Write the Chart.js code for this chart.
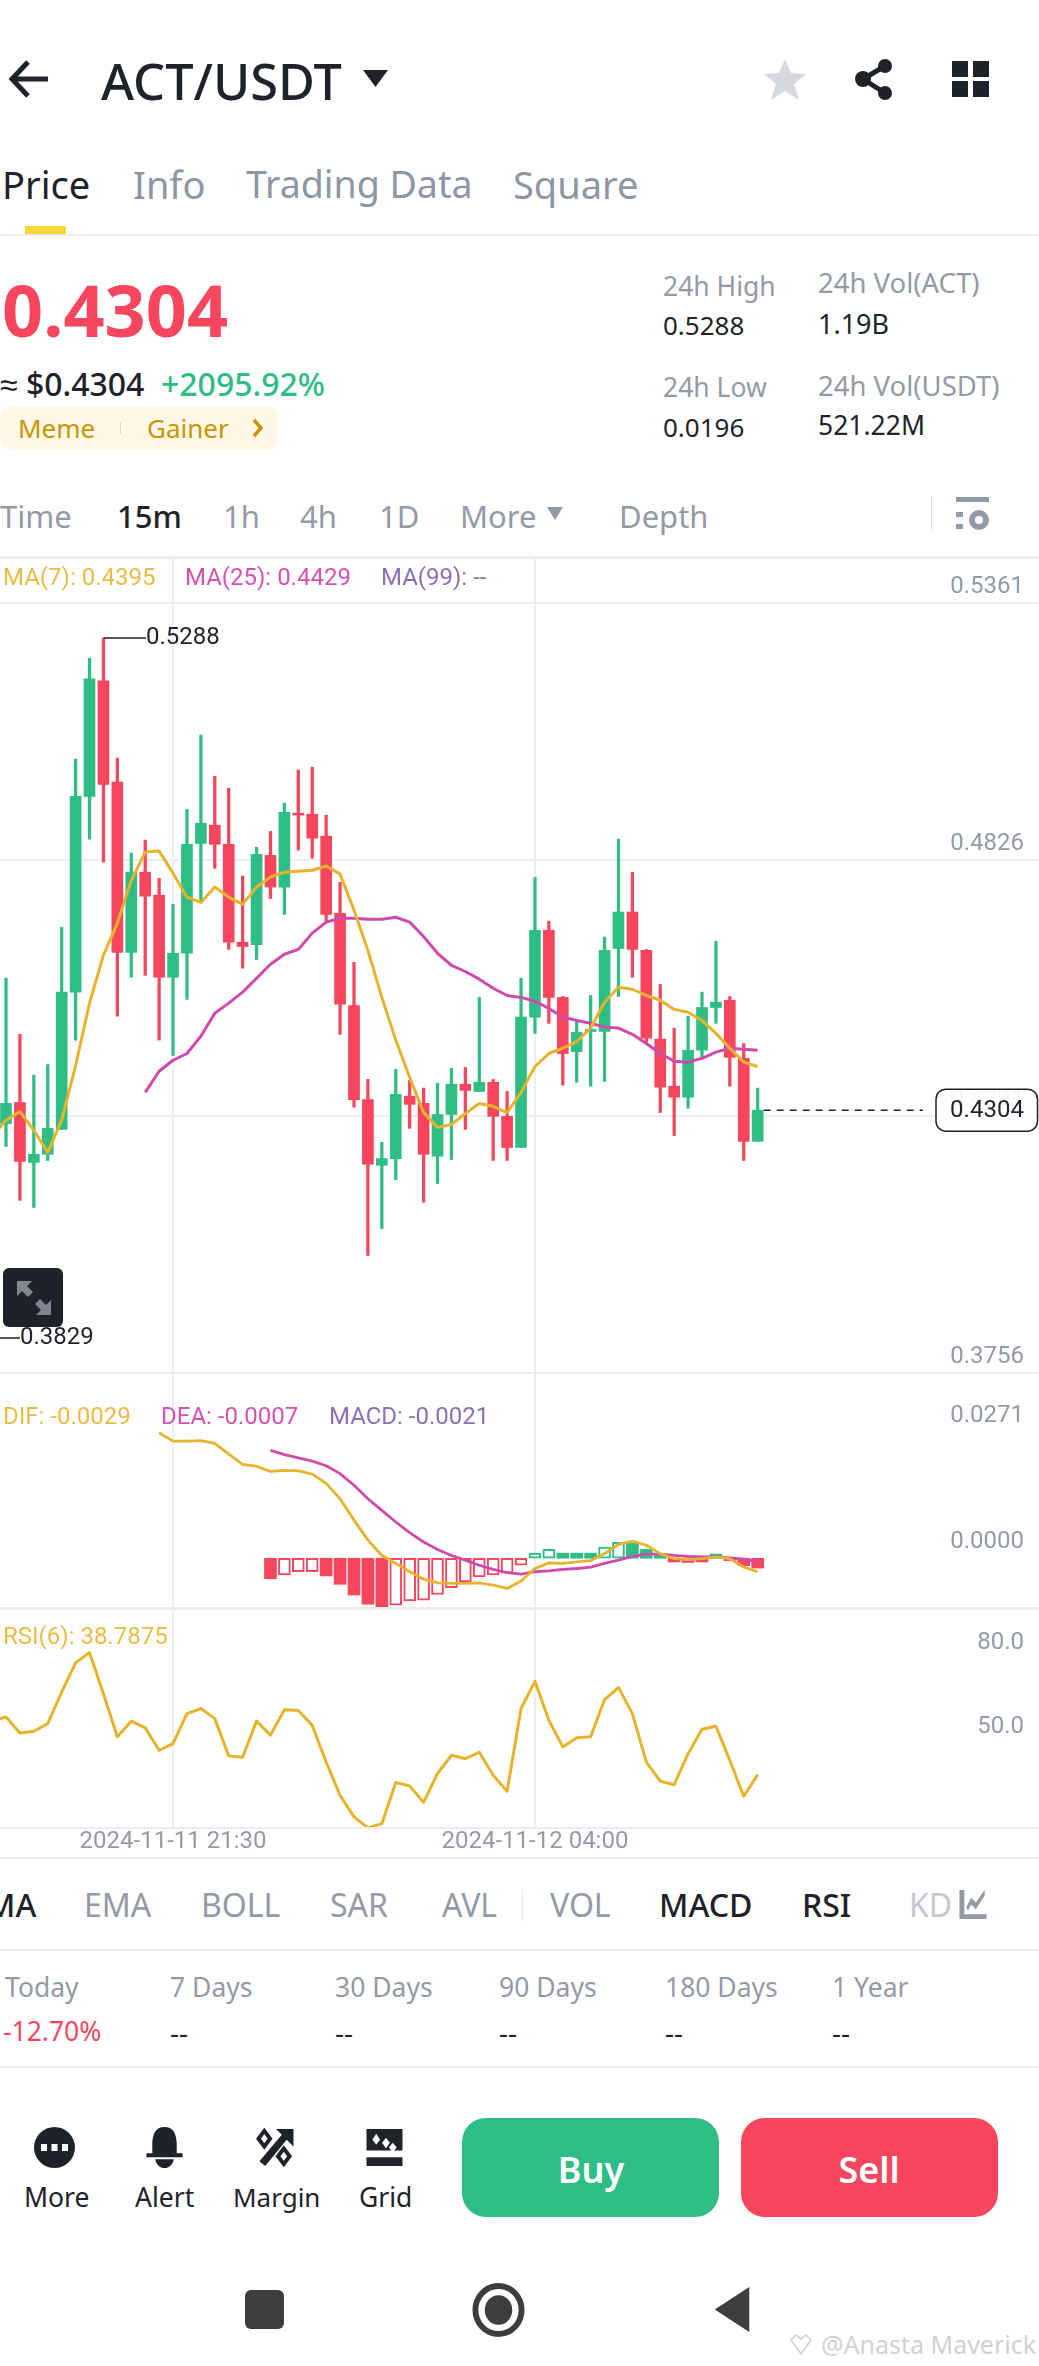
<!DOCTYPE html>
<html><head><meta charset="utf-8">
<script src="https://cdn.jsdelivr.net/npm/chart.js@4"></script>
<style>
html,body{margin:0;padding:0;background:#fff;width:1039px;height:2366px;overflow:hidden}
#page{position:relative;width:1039px;height:2366px;overflow:hidden;font-family:"Noto Sans",sans-serif}
.t{position:absolute;white-space:pre;transform:translateY(-50%);line-height:1}
.r{font-family:Roboto,sans-serif}
.hr{position:absolute;left:0;width:1039px;background:#eaecef}
canvas{position:absolute;left:0;display:block}
svg{position:absolute;overflow:visible}
</style></head><body><div id="page">
<canvas id="cPrice"></canvas><canvas id="cMacd"></canvas><canvas id="cRsi"></canvas>
</div>
<script>
// ---- data ----
const candleOpen =[.4276,.4320,.4195,.4212,.4264,.4550,.4958,.5199,.4988,.4633,.4800,.4752,.4581,.4631,.4860,.4898,.4858,.4654,.4649,.4835,.4769,.4923,.4921,.4875,.4714,.4522,.4326,.4189,.4203,.4333,.4318,.4208,.4295,.4358,.4343,.4362,.4291,.4226,.4498,.4679,.4539,.4426,.4468,.4468,.4641,.4717,.4637,.4452,.4354,.4331,.4429,.4518,.4533,.4412,.4239];
const candleHigh =[.4579,.4462,.4377,.4399,.4685,.5036,.5246,.5288,.5038,.4840,.4867,.4787,.4733,.4931,.5086,.5000,.4975,.4792,.4852,.4885,.4944,.5013,.5019,.4919,.4779,.4612,.4368,.4237,.4389,.4366,.4350,.4360,.4391,.4393,.4539,.4368,.4343,.4579,.4789,.4698,.4541,.4487,.4543,.4665,.4869,.4800,.4639,.4566,.4475,.4500,.4550,.4656,.4541,.4443,.4350];
const candleLow  =[.4228,.4116,.4101,.4199,.4264,.4450,.4869,.4821,.4500,.4581,.4585,.4450,.4418,.4535,.4737,.4808,.4639,.4600,.4618,.4745,.4712,.4846,.4829,.4694,.4462,.4310,.4001,.4057,.4159,.4266,.4112,.4151,.4201,.4264,.4343,.4199,.4199,.4226,.4464,.4485,.4356,.4362,.4354,.4364,.4541,.4581,.4445,.4299,.4251,.4308,.4414,.4485,.4354,.4199,.4239];
const candleClose=[.4318,.4197,.4212,.4266,.4550,.4958,.5203,.4983,.4633,.4800,.4750,.4581,.4631,.4858,.4902,.4858,.4654,.4645,.4837,.4769,.4925,.4919,.4871,.4712,.4525,.4326,.4191,.4203,.4337,.4316,.4212,.4295,.4358,.4345,.4362,.4291,.4226,.4498,.4679,.4539,.4422,.4466,.4472,.4637,.4717,.4639,.4454,.4352,.4331,.4429,.4518,.4529,.4414,.4239,.4304];
// ma7 and rsi also hold the point just off the left edge, at index -1
const ma7=[.4249,.4283,.4301,.4262,.4216,.4283,.4397,.4527,.4627,.4694,.4783,.4842,.4844,.4798,.4748,.4737,.4769,.4748,.4733,.4769,.4790,.4800,.4802,.4804,.4813,.4796,.4721,.4637,.4539,.4450,.4372,.4299,.4268,.4274,.4297,.4318,.4312,.4299,.4341,.4395,.4422,.4433,.4447,.4475,.4529,.4560,.4556,.4543,.4533,.4514,.4508,.4491,.4464,.4433,.4404,.4395];
const ma25Start=10;
const ma25=[.4341,.4385,.4408,.4422,.4458,.4506,.4527,.4550,.4579,.4608,.4629,.4639,.4673,.4696,.4704,.4704,.4702,.4702,.4706,.4696,.4666,.4631,.4606,.4593,.4577,.4558,.4543,.4539,.4531,.4516,.4498,.4491,.4485,.4477,.4475,.4462,.4443,.4422,.4406,.4404,.4412,.4425,.4433,.4431,.4429];
const difStart=11;
const dif=[.0270,.0252,.0252,.0253,.0247,.0224,.0202,.0198,.0187,.0189,.0188,.0181,.0161,.0128,.0082,.0039,.0006,-.0011,-.0029,-.0045,-.0053,-.0054,-.0054,-.0053,-.0058,-.0065,-.0049,-.0022,-.0010,-.0011,-.0008,-.0005,.0010,.0030,.0037,.0028,.0010,-.0001,-.0003,-.0001,.0003,-.0001,-.0019,-.0029];
const deaStart=19;
const dea=[.0232,.0223,.0216,.0209,.0199,.0182,.0157,.0128,.0103,.0078,.0055,.0035,.0019,.0006,-.0004,-.0015,-.0024,-.0031,-.0034,-.0029,-.0027,-.0024,-.0022,-.0019,-.0011,-.0004,.0004,.0009,.0009,.0006,.0004,.0003,.0003,.0001,-.0002,-.0007];
const histStart=19;
const macdHist=[-.0044,-.0036,-.0029,-.0029,-.0038,-.0056,-.0079,-.0099,-.0107,-.0101,-.0092,-.0090,-.0078,-.0063,-.0051,-.0040,-.0036,-.0032,-.0015,.0011,.0019,.0011,.0011,.0011,.0024,.0034,.0032,.0019,.0008,-.0008,-.0009,-.0008,.0009,-.0005,-.0016,-.0021];
const histHollow=[20,21,22,28,29,30,31,32,33,34,35,36,37,38,39,43,44];
const rsi=[58.0,59.4,53.7,54.3,57.0,68.3,78.7,82.4,67.7,52.3,57.9,55.5,47.5,49.9,60.6,62.4,58.8,45.5,45.0,57.9,52.9,62.0,61.7,56.4,43.3,31.4,23.7,19.8,21.3,36.0,34.8,28.9,39.2,45.7,44.5,46.8,38.6,32.9,62.4,72.1,58.2,48.7,52.0,52.3,65.6,69.9,60.6,43.3,36.5,35.2,46.3,55.0,56.1,43.9,31.1,38.79];
const priceTicks=[0.5361,0.4826,0.4291,0.3756];
const macdTicks=[0.0271,0];
const rsiTicks=[80,50];
const timeTicks=[12,38];
const timeLabels=["2024-11-11 21:30","2024-11-12 04:00"];
const highMark={index:7,value:0.5288}, lowMark={value:0.3829}, lastMark={index:54,value:0.4304};

// ---- colours and shared scale settings ----
const GREEN="#2ebd85",RED="#f6465d",YEL="#e8b32c",MAG="#d049ad",GRID="#eceef1",GRAY="#929aa5",DARK="#1e2329";
const X_MIN=-0.431,X_MAX=74.21;
const isUp=i=>candleClose[i]>=candleOpen[i];
const noPad=s=>{s.paddingTop=s.paddingBottom=s.paddingLeft=s.paddingRight=0;};
function size(id,top,h){const c=document.getElementById(id);c.width=1039;c.height=h;c.style.top=top+"px";c.style.width="1039px";c.style.height=h+"px";return c;}
function xScale(showLabels){return {type:"linear",min:X_MIN,max:X_MAX,offset:false,
  afterBuildTicks:s=>{s.ticks=timeTicks.map(v=>({value:v}));},
  grid:{color:GRID,lineWidth:2,drawTicks:false,offset:false},border:{display:false},
  ticks:showLabels?{display:true,maxRotation:0,autoSkip:false,padding:0,color:GRAY,font:{family:"Roboto",size:24},
     callback:v=>timeLabels[timeTicks.indexOf(v)]||""}:{display:false},
  afterFit:s=>{noPad(s);if(showLabels)s.height=32;}};}
function yScale(min,max,ticks,fmt,showGrid){return {position:"right",min,max,
  afterBuildTicks:s=>{s.ticks=ticks.map(v=>({value:v}));},
  afterFit:s=>{noPad(s);s.width=0;},
  grid:{display:showGrid,color:GRID,lineWidth:2,drawTicks:false},border:{display:false},
  ticks:{mirror:true,padding:-15,labelOffset:-16,color:GRAY,font:{family:"Roboto",size:24},callback:fmt}};}
const base={responsive:false,animation:false,devicePixelRatio:1,events:[],plugins:{legend:{display:false},tooltip:{enabled:false}}};
const lineDs=(data,color,w)=>({type:"line",data,borderColor:color,borderWidth:w,pointRadius:0,tension:0,order:0,fill:false,borderJoinStyle:"round"});

// ---- price pane ----
const marks={id:"marks",afterDraw(ch){const g=ch.ctx,x=ch.scales.x,y=ch.scales.y;
  g.save();g.font="24px Roboto";g.textBaseline="middle";g.textAlign="left";g.fillStyle=DARK;g.strokeStyle=DARK;g.lineWidth=1.5;
  let px=x.getPixelForValue(highMark.index),py=y.getPixelForValue(highMark.value);
  g.beginPath();g.moveTo(px,py);g.lineTo(146,py);g.stroke();g.fillText(highMark.value.toFixed(4),146,py);
  py=y.getPixelForValue(lowMark.value);
  g.beginPath();g.moveTo(0,py);g.lineTo(20,py);g.stroke();g.fillText(lowMark.value.toFixed(4),20,py);
  py=y.getPixelForValue(lastMark.value);px=x.getPixelForValue(lastMark.index);
  g.setLineDash([7,6]);g.beginPath();g.moveTo(px+6,py);g.lineTo(923,py);g.stroke();g.setLineDash([]);
  g.beginPath();g.roundRect(936,py-21,101.5,42,10);g.fillStyle="rgba(255,255,255,.9)";g.fill();g.stroke();
  g.fillStyle=DARK;g.textAlign="center";g.fillText(lastMark.value.toFixed(4),987,py+1);
  g.restore();}};
new Chart(size("cPrice",558,817),{type:"bar",plugins:[marks],data:{datasets:[
  {label:"wick",data:candleOpen.map((_,i)=>({x:i,y:[candleLow[i],candleHigh[i]]})),grouped:false,barThickness:2.6,order:2,
   backgroundColor:c=>isUp(c.dataIndex)?GREEN:RED},
  {label:"body",data:candleOpen.map((o,i)=>({x:i,y:[o,candleClose[i]]})),grouped:false,barThickness:11,order:1,
   backgroundColor:c=>isUp(c.dataIndex)?GREEN:RED},
  lineDs(ma7.map((v,i)=>({x:i-1,y:v})),YEL,3),
  lineDs(ma25.map((v,i)=>({x:i+ma25Start,y:v})),MAG,3)
]},options:{...base,layout:{padding:{bottom:2}},scales:{x:xScale(false),y:yScale(0.3756,0.5455,priceTicks,v=>v.toFixed(4),true)}}});

// ---- MACD pane ----
new Chart(size("cMacd",1373,235),{type:"bar",data:{datasets:[
  {label:"MACD",data:macdHist.map((v,i)=>({x:i+histStart,y:v})),grouped:false,barThickness:12,order:1,borderSkipped:false,
   backgroundColor:c=>{const k=c.dataIndex+histStart;return histHollow.includes(k)?"#fff":(macdHist[c.dataIndex]>=0?GREEN:RED);},
   borderColor:c=>macdHist[c.dataIndex]>=0?GREEN:RED,
   borderWidth:c=>histHollow.includes(c.dataIndex+histStart)?2:0},
  lineDs(dif.map((v,i)=>({x:i+difStart,y:v})),YEL,2.8),
  lineDs(dea.map((v,i)=>({x:i+deaStart,y:v})),MAG,2.8)
]},options:{...base,scales:{x:xScale(false),y:yScale(-0.0107,0.03985,macdTicks,v=>v.toFixed(4),false)}}});

// ---- RSI pane ----
new Chart(size("cRsi",1608,252),{type:"line",data:{datasets:[
  lineDs(rsi.map((v,i)=>({x:i-1,y:v})),YEL,3)
]},options:{...base,scales:{x:xScale(true),y:yScale(19.75,98.3,rsiTicks,v=>v.toFixed(1),false)}}});

// ---- page text ----
const page=document.getElementById("page");
function t(s,x,y,sz,col,w,o){const e=document.createElement("span");e.className="t"+(o&&o.roboto?" r":"");e.textContent=s;
  e.style.cssText+=`left:${x}px;top:${y}px;font-size:${sz}px;color:${col};font-weight:${w||400};`+((o&&o.css)||"");page.appendChild(e);return e;}
function hr(y,h){const e=document.createElement("div");e.className="hr";e.style.top=y+"px";e.style.height=(h||2)+"px";page.appendChild(e);}
function box(x,y,w,h,bg,r){const e=document.createElement("div");e.style.cssText=`position:absolute;left:${x}px;top:${y}px;width:${w}px;height:${h}px;background:${bg};border-radius:${r||0}px`;page.appendChild(e);return e;}
function svg(x,y,w,h,vb,inner){page.insertAdjacentHTML("beforeend",`<svg style="left:${x}px;top:${y}px" width="${w}" height="${h}" viewBox="${vb}">${inner}</svg>`);}

hr(234);hr(556,3);hr(1372,2);hr(1607,3);hr(1827,2);hr(1857);hr(1949);hr(2066);
svg(8,58,42,42,"0 0 42 42",`<path d="M40 21H5M20 4L4 21L20 38" fill="none" stroke="${DARK}" stroke-width="5"/>`);
t("ACT/USDT",101,81,50.5,DARK,500);
svg(363,70,25,17,"0 0 25 17",`<path d="M0 0H25L12.5 17Z" fill="${DARK}"/>`);
svg(764,59,42,41,"0 0 42 41",`<path d="M21 0L27 14L42 15L30 25L35 41L21 32L7 41L12 25L0 15L15 14Z" fill="#d5d9de"/>`);
svg(855,59,38,41,"0 0 38 41",`<circle cx="30" cy="7" r="7" fill="${DARK}"/><circle cx="30" cy="34" r="7" fill="${DARK}"/><circle cx="8" cy="20" r="8" fill="${DARK}"/><path d="M30 7L8 20L30 34" stroke="${DARK}" stroke-width="5" fill="none"/>`);
svg(952,61,37,36,"0 0 37 36",`<path d="M0 0h16v16H0zM21 0h16v16H21zM0 20h16v16H0zM21 20h16v16H21z" fill="${DARK}"/>`);
t("Price",2,184,38,DARK,400);t("Info",133,184,38,"#8c96a5");t("Trading Data",246,184,37.5,"#8c96a5");t("Square",513,184,38,"#8c96a5");
box(25,226,41,8,"#fcd535");
t("0.4304",2,309,72,RED,700);
t("≈ $0.4304",0,384,32,DARK,500);t("+2095.92%",161,384,32,GREEN,500);
box(0,406,278,44,"#fdf8e6",12);
t("Meme",18,428,26,"#c99400");box(120,422,1,12,"#e6d9a8");t("Gainer",147,428,26,"#c99400");
svg(252,418,11,20,"0 0 11 20",`<path d="M2 2L9 10L2 18" fill="none" stroke="#c99400" stroke-width="3.5"/>`);
t("24h High",663,286,26.5,GRAY);t("0.5288",663,325,26,DARK);t("24h Low",663,387,26.5,GRAY);t("0.0196",663,427,26,DARK);
t("24h Vol(ACT)",818,283,27.5,GRAY);t("1.19B",818,323,27,DARK);t("24h Vol(USDT)",818,386,27.5,GRAY);t("521.22M",818,425,26.5,DARK);
t("Time",0,516,31,GRAY);t("15m",117,516,31,DARK,500);t("1h",223,516,31,GRAY);t("4h",300,516,31,GRAY);t("1D",379,516,31,GRAY);t("More",460,516,31,GRAY);
svg(547,507,16,13,"0 0 16 13",`<path d="M0 0H16L8 13Z" fill="${GRAY}"/>`);t("Depth",619,516,31,GRAY);
box(931,496,1,34,"#dfe2e6");
svg(956,497,33,33,"0 0 33 33",`<path d="M0 0h33v5H0zM0 15h7v5H0zM0 27h7v5H0z" fill="${GRAY}"/><circle cx="23" cy="23" r="7" fill="none" stroke="${GRAY}" stroke-width="6"/>`);
t("MA(7): 0.4395",3,577,24,"#e8bc45",400,{roboto:1});t("MA(25): 0.4429",185,577,24,"#d552b5",400,{roboto:1});t("MA(99): --",381,577,24,"#8d6fb5",400,{roboto:1});
t("DIF: -0.0029",3,1416,24,"#e8bc45",400,{roboto:1});t("DEA: -0.0007",161,1416,24,"#d552b5",400,{roboto:1});t("MACD: -0.0021",329,1416,24,"#8d6fb5",400,{roboto:1});
t("RSI(6): 38.7875",3,1636,24,"#e8bc45",400,{roboto:1});
box(3,1268,60,59,DARK,6);
svg(17,1281,34,34,"0 0 34 34",`<path d="M0 0H15L10 5L16 11L11 16L5 10L0 15ZM34 34H19L24 29L18 23L23 18L29 24L34 19Z" fill="#7f8793"/>`);
t("MA",-14,1905,32,DARK,500);
t("EMA",84,1905,32,GRAY);t("BOLL",201,1905,32,GRAY);t("SAR",330,1905,32,GRAY);t("AVL",442,1905,32,GRAY);box(522,1889,1,32,"#e6e8ea");t("VOL",550,1905,32,GRAY);
t("MACD",659,1905,32,DARK,500);t("RSI",802,1905,32,DARK,500);
t("KD",909,1905,32,"#c3c8cf");
svg(959,1890,28,29,"0 0 28 30",`<path d="M0 0h5v25h23v5H0zM7 18L12 8L17 13L26 0V6L17 20L12 15L9 21Z" fill="${GRAY}"/>`);
const periods=[["Today",5],["7 Days",170],["30 Days",335],["90 Days",499],["180 Days",665],["1 Year",832]];
periods.forEach(([s,x])=>t(s,x,1987,26.5,GRAY));
t("-12.70%",3,2031,26.5,RED);
periods.slice(1).forEach(([s,x])=>t("--",x,2032,28,DARK));
svg(34,2127,41,41,"0 0 41 41",`<ellipse cx="20.5" cy="20.5" rx="20.5" ry="20.5" fill="${DARK}"/><path d="M7 17h6v7H7zM17.5 17h6v7h-6zM28 17h6v7h-6z" fill="#fff"/>`);
svg(146,2127,37,41,"0 0 37 42",`<path d="M18.5 0C28 0 31 8 31 18V27H37V31H0V27H6V18C6 8 9 0 18.5 0ZM9 33H28C27 39 23 42 18.5 42C14 42 10 39 9 33Z" fill="${DARK}"/>`);
svg(256,2129,38,37,"0 0 38 38",`<path d="M20 0H38V18L31 11L9 38L3 33L26 6Z" fill="${DARK}"/><path d="M8 2L14 10L8 18L2 10Z" fill="none" stroke="${DARK}" stroke-width="4"/><path d="M28 20L34 28L28 36L22 28Z" fill="none" stroke="${DARK}" stroke-width="4"/>`);
svg(366,2129,37,37,"0 0 37 38",`<path d="M0 0H37V22H0z" fill="${DARK}"/><path d="M0 29H37V38H0z" fill="${DARK}"/><path d="M10 5L14 11L10 16L6 11ZM20 9L24 14L20 20L16 14ZM27 14L31 19L27 24L23 19Z" fill="#fff"/>`);
t("More",24,2197,26.5,DARK);t("Alert",135,2197,26.5,DARK);t("Margin",233,2197,26,DARK);t("Grid",359,2197,26.5,DARK);
box(462,2118,257,99,GREEN,24);box(741,2118,257,99,RED,24);
t("Buy",591,2170,36,"#fff",600,{css:"transform:translate(-50%,-50%);"});t("Sell",869,2170,36,"#fff",600,{css:"transform:translate(-50%,-50%);"});
box(245,2290,39,39,"#3d3d3d",6);
svg(472,2283,53,54,"0 0 53 55",`<ellipse cx="26.5" cy="27.5" rx="23.5" ry="24.5" fill="none" stroke="#3d3d3d" stroke-width="6"/><ellipse cx="26.5" cy="27.5" rx="14" ry="15" fill="#3d3d3d"/>`);
svg(714,2287,36,45,"0 0 36 47",`<path d="M36 0V47L0 23.5Z" fill="#3d3d3d"/>`);
t("@Anasta Maverick",821,2344,25,"#cfd1d4");
svg(789,2332,24,24,"0 0 24 24",`<path d="M12 22L2 8L7 3L12 7L17 3L22 8Z" fill="none" stroke="#cfd1d4" stroke-width="1.5"/>`);
</script></body></html>
